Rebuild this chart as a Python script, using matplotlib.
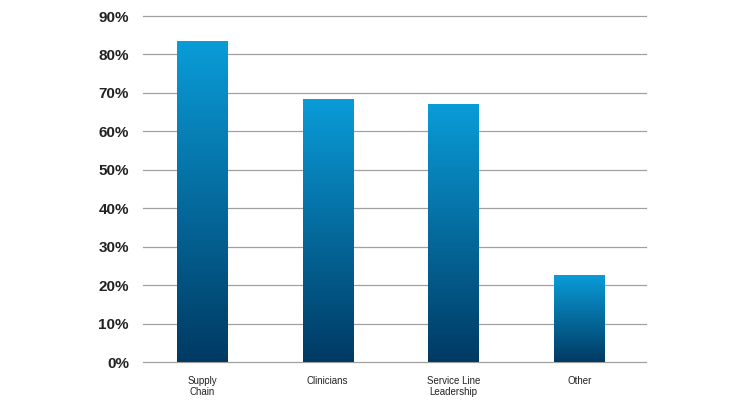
import matplotlib
matplotlib.use("Agg")
import matplotlib.pyplot as plt
import numpy as np
from matplotlib.colors import LinearSegmentedColormap

categories = ["Supply\nChain", "Clinicians", "Service Line\nLeadership", "Other"]
values = [83.3, 68.4, 67.1, 22.5]
yticks = [0, 10, 20, 30, 40, 50, 60, 70, 80, 90]

plt.rcParams['font.family'] = ['Liberation Sans', 'DejaVu Sans']

fig = plt.figure(figsize=(7.4, 4.0), dpi=100)
ax = fig.add_axes([0.193, 0.095, 0.68, 0.865])

x = np.arange(len(categories))
bars = ax.bar(x, values, width=0.4, color='none', zorder=3)

# vertical gradient inside each bar: light blue at top, navy at bottom
cmap = LinearSegmentedColormap.from_list('bluegrad', ['#003a63', '#0a9cd8'])
grad = np.linspace(0, 1, 256).reshape(-1, 1)
for b in bars:
    x0, y0 = b.get_x(), b.get_y()
    w, h = b.get_width(), b.get_height()
    ax.imshow(grad, cmap=cmap, origin='lower', aspect='auto',
              extent=[x0, x0 + w, y0, y0 + h], zorder=3)

ax.set_xlim(-0.47, 3.53)
ax.set_ylim(0, 90)
ax.set_yticks(yticks)
ax.set_yticklabels([f"{t}%" for t in yticks], fontsize=11, fontweight='bold', color='#222222')
ax.set_xticks(x)
ax.set_xticklabels(categories, fontsize=7, color='#222222', linespacing=1.1)
ax.tick_params(axis='both', length=0)
ax.tick_params(axis='y', pad=10)
ax.tick_params(axis='x', pad=10)
ax.yaxis.grid(True, color='#a0a0a0', linewidth=0.9, zorder=0)
ax.set_axisbelow(True)
for line in ax.get_ygridlines():
    line.set_clip_on(False)
for s in ax.spines.values():
    s.set_visible(False)

fig.savefig("out.png", dpi=100)
